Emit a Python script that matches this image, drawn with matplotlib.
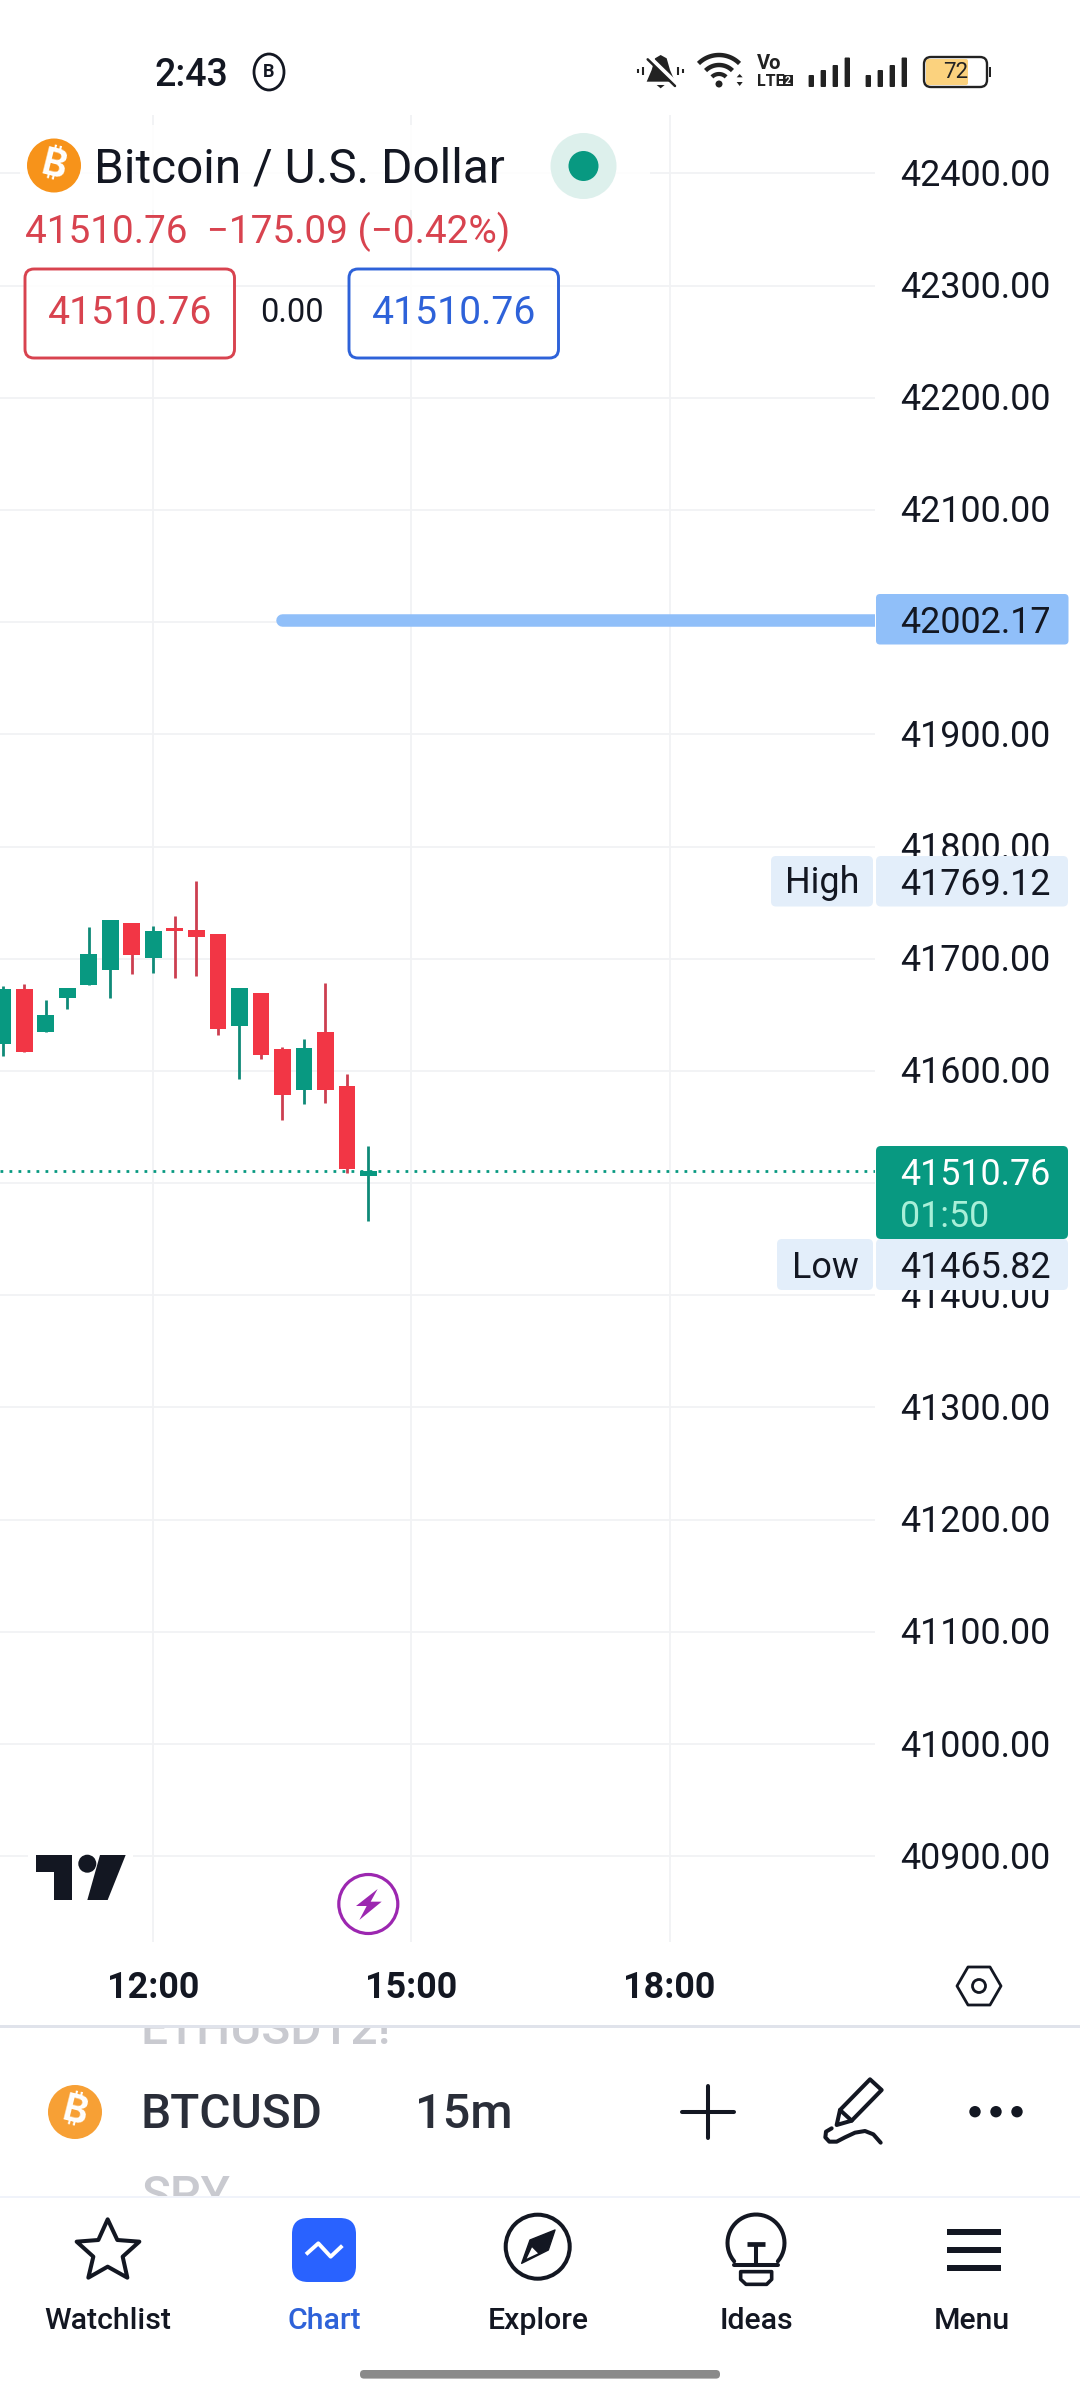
import numpy as np
import matplotlib
matplotlib.use("Agg")
import matplotlib.pyplot as plt
from matplotlib.patches import Circle, Ellipse, FancyBboxPatch, Polygon, Rectangle
from matplotlib.transforms import ScaledTranslation

plt.rcParams["font.family"] = ["Roboto", "DejaVu Sans"]

# candles, 15m bars, index 0 is the 12:00 bar
bar_index = [-7, -6, -5, -4, -3, -2, -1, 0, 1, 2, 3, 4, 5, 6, 7, 8, 9, 10]
opens = [41624.0, 41672.7, 41634.7, 41665.0, 41676.3, 41689.9, 41731.5, 41700.6, 41727.0,
         41725.2, 41721.7, 41640.1, 41669.1, 41619.3, 41583.1, 41634.4, 41586.4, 41506.5]
closes = [41672.7, 41616.9, 41649.6, 41673.6, 41703.9, 41734.1, 41703.3, 41724.3, 41724.6,
          41719.0, 41637.1, 41673.6, 41614.3, 41578.6, 41620.2, 41583.1, 41512.5, 41510.76]
highs = [41675.4, 41677.2, 41662.9, 41673.6, 41727.9, 41734.1, 41731.5, 41728.8, 41737.7,
         41769.12, 41721.7, 41673.6, 41669.1, 41621.1, 41628.2, 41678.0, 41597.0, 41533.0]
lows = [41613.4, 41616.9, 41634.7, 41655.2, 41676.3, 41665.0, 41686.4, 41687.2, 41682.8,
        41684.6, 41632.1, 41592.9, 41610.7, 41556.4, 41570.6, 41571.5, 41509.2, 41465.82]

price_ticks = [40900, 41000, 41100, 41200, 41300, 41400, 41500, 41600, 41700, 41800,
               41900, 42000, 42100, 42200, 42300, 42400]
hidden_ticks = [41500, 42000]  # these sit fully behind the price tags
time_ticks = [0, 12, 24]
time_labels = ["12:00", "15:00", "18:00"]
last_price = 41510.76
line_price = 42002.17
line_start = 6

DARK = "#131722"
RED = "#F23645"
RED_WICK = "#CC3F50"
GREEN = "#089981"
GREEN_WICK = "#0F8A78"
TEXT_RED = "#D8434F"
TEXT_BLUE = "#2E62D9"
TAG = "#E3EEFA"
BLUE_LINE = "#90BFF9"
GRID = "#F1F2F4"
ORANGE = "#F7931A"

fig = plt.figure(figsize=(10.8, 24), dpi=100, facecolor="white")

# price pane
ax = fig.add_axes([0, (2400 - 1942) / 2400, 875 / 1080, (1942 - 115) / 2400], zorder=1)
ax.set_xlim(-7.13, 33.55)
ax.set_ylim(40823.6, 42452)
for s in ax.spines.values():
    s.set_visible(False)
ax.set_axisbelow(True)
ax.grid(True, color=GRID, lw=1.3)
ax.yaxis.tick_right()
ax.set_yticks(price_ticks)
ax.set_yticklabels(["" if p in hidden_ticks else f"{p:.2f}" for p in price_ticks],
                   fontsize=25.8, color=DARK)
ax.set_xticks(time_ticks)
ax.set_xticklabels(time_labels, fontsize=25.8, color=DARK, fontweight="bold")
ax.tick_params(axis="y", length=0, pad=18)
ax.tick_params(axis="x", length=0, pad=20)
nudge_up = ScaledTranslation(0, 1.5 / 100, fig.dpi_scale_trans)
for lab in ax.get_yticklabels():
    lab.set_transform(lab.get_transform() + nudge_up)

for i, o, c, h, l in zip(bar_index, opens, closes, highs, lows):
    up = c >= o
    ax.vlines(i, l, h, color=GREEN_WICK if up else RED_WICK, lw=2.0, zorder=3)
    ax.bar(i, abs(c - o), bottom=min(o, c), width=0.78, color=GREEN if up else RED, zorder=4)

ax.axhline(last_price, color=GREEN, lw=2.0, linestyle=(0, (1, 2.24)), dash_capstyle="butt", zorder=5)
ax.plot([line_start, 33.55], [line_price, line_price], color=BLUE_LINE, lw=9,
        solid_capstyle="round", zorder=5)

# everything else of the app screen, in screen pixels
ui = fig.add_axes([0, 0, 1, 1], zorder=2)
ui.set_xlim(0, 1080)
ui.set_ylim(2400, 0)
ui.axis("off")
ui.patch.set_alpha(0)


def label(x, y, s, size, color=DARK, ha="left", va="baseline", weight="normal", **kw):
    return ui.text(x, y, s, fontsize=size, color=color, ha=ha, va=va, fontweight=weight, **kw)


def stroke(xs, ys, color=DARK, lw=2.9, cap="round", **kw):
    ui.plot(xs, ys, color=color, lw=lw, solid_capstyle=cap, solid_joinstyle="round", **kw)


def box(x0, y0, x1, y1, face, edge="none", lw=0, rad=5):
    ui.add_patch(FancyBboxPatch((x0 + rad, y0 + rad), x1 - x0 - 2 * rad, y1 - y0 - 2 * rad,
                                boxstyle=f"round,pad={rad},rounding_size={rad}",
                                fc=face, ec=edge, lw=lw))


def poly(points, ox, oy, scale=1 / 3, **kw):
    pts = [(ox + px * scale, oy + py * scale) for px, py in points]
    ui.add_patch(Polygon(pts, **kw))


def arc(cx, cy, r, t0, t1, **kw):
    t = np.radians(np.linspace(t0, t1, 40))
    stroke(cx + r * np.cos(t), cy - r * np.sin(t), **kw)


def coin(cx, cy, r, color, size):
    ui.add_patch(Circle((cx, cy), r, fc=color, ec="none"))
    label(cx, cy, "\u20bf", size, color="white", ha="center", va="center", weight="bold", rotation=-14,
          family=["Inter", "Noto Sans", "Open Sans", "Lato", "DejaVu Sans"])


def clipped(x, y, s, top, bottom):
    t = label(x, y, s, 34.5, color="#C9CAD0", weight="medium")
    t.set_clip_path(Rectangle((0, top), 1080, bottom - top, transform=ui.transData))
    t.set_clip_on(True)


# status bar
label(155, 86, "2:43", 27, weight="medium")
ui.add_patch(Ellipse((269, 72), 30, 36, fc="none", ec=DARK, lw=2))
label(269, 72, "B", 13, ha="center", va="center", weight="bold")
poly([(122, 45), (140, 55), (150, 90), (165, 125), (80, 125), (95, 90), (105, 55)], 620, 40, fc="#222222", ec="none")
stroke([620 + 88 / 3, 620 + 170 / 3], [40 + 52 / 3, 40 + 132 / 3], color="white", lw=3.4)
stroke([620 + 83 / 3, 620 + 165 / 3], [40 + 58 / 3, 40 + 138 / 3], color="#222222", lw=1.8)
poly([(110, 135), (134, 135), (122, 145)], 620, 40, fc="#222222", ec="none")
for a, y0, y1 in [(55, 86, 98), (70, 80, 104), (175, 80, 104), (190, 86, 98)]:
    stroke([620 + a / 3, 620 + a / 3], [40 + y0 / 3, 40 + y1 / 3], color="#222222", lw=1.5, cap="butt")
for r, w in [(29, 3.2), (19, 3.2), (10, 3)]:
    arc(719, 84, r, 45, 135, color="#222222", lw=w, cap="butt")
ui.add_patch(Circle((719, 84), 3.5, fc="#222222", ec="none"))
poly([(350, 112), (368, 112), (359, 102)], 620, 40, fc="#222222", ec="none")
poly([(350, 126), (368, 126), (359, 138)], 620, 40, fc="#222222", ec="none")
label(757, 69, "Vo", 14.5, color="#222222", weight="bold")
label(757, 86, "LTE", 11.5, color="#222222", weight="bold")
ui.add_patch(Rectangle((783, 75), 10, 11, fc="#222222", ec="none"))
label(788, 80.5, "2", 7.5, color="white", ha="center", va="center", weight="bold")
for x0 in (811.3, 868.3):
    for k, top in enumerate((75, 70, 65, 57.5)):
        box(x0 - 2.7 + 12 * k, top, x0 + 2.7 + 12 * k, 87, "#222222", rad=1)
box(926, 59, 968, 85, "#FBD27E", rad=2)
box(924, 57, 987, 87, "none", edge="#222222", lw=1.7, rad=7)
ui.add_patch(Rectangle((988.5, 67), 2.6, 10, fc="#222222", ec="none"))
label(956, 72.5, "72", 16, color="#222222", ha="center", va="center")

# symbol header
ui.add_patch(Rectangle((20, 125), 630, 85, fc="white", alpha=0.85, ec="none"))
coin(54, 165.5, 27, ORANGE, 27)
label(94, 182, "Bitcoin / U.S. Dollar", 34.4)
ui.add_patch(Circle((583.5, 166), 33, fc="#DDF0EC", ec="none"))
ui.add_patch(Circle((583.5, 166), 15, fc=GREEN, ec="none"))
label(25, 243, "41510.76  \u2212175.09 (\u22120.42%)", 27.9, color=TEXT_RED)
box(25, 269, 234.5, 358, (1, 1, 1, 0.9), edge=TEXT_RED, lw=2.1, rad=9)
box(349, 269, 558.5, 358, (1, 1, 1, 0.9), edge=TEXT_BLUE, lw=2.1, rad=9)
label(130, 313, "41510.76", 28.2, color=TEXT_RED, ha="center", va="center")
label(291.5, 313, "0.00", 23.5, ha="center", va="center")
label(454, 313, "41510.76", 28.2, color=TEXT_BLUE, ha="center", va="center")

# price tags on the scale
box(876, 594, 1068.5, 644.5, BLUE_LINE, rad=4)
label(900, 619, "42002.17", 25.8, va="center_baseline")
box(771, 856, 873, 906.5, TAG, rad=5)
box(876, 856, 1068, 906.5, TAG, rad=5)
label(859, 879, "High", 25.8, ha="right", va="center_baseline")
label(900, 881, "41769.12", 25.8, va="center_baseline")
box(876, 1146, 1068, 1239, GREEN, rad=5)
label(900, 1171, "41510.76", 25.8, color="white", va="center_baseline")
label(900, 1213, "01:50", 25.8, color="#A8EFD8", va="center_baseline")
box(777, 1239, 873, 1290, TAG, rad=5)
box(876, 1239, 1068, 1290, TAG, rad=5)
label(859, 1264, "Low", 25.8, ha="right", va="center_baseline")
label(900, 1264, "41465.82", 25.8, va="center_baseline")

# logo and lightning mark on the pane
ui.add_patch(Rectangle((28, 1843), 105, 60, fc="white", ec="none"))
poly([(108, 45), (216, 45), (216, 180), (162, 180), (162, 97), (108, 97)], 0, 1840, fc=DARK, ec="none")
ui.add_patch(Circle((87.3, 1863.7), 9, fc=DARK, ec="none"))
poly([(300, 45), (377, 45), (323, 180), (262, 180)], 0, 1840, fc=DARK, ec="none")
ui.add_patch(Circle((368.3, 1904), 29.5, fc="white", ec="#9C27B0", lw=2.3))
poly([(1133, 147), (1068, 198), (1100, 198), (1078, 240), (1145, 185), (1112, 185)], 0, 1840, fc="#9C27B0", ec="none")

# scale settings hexagon
poly([(-66, 0), (-33, -57), (33, -57), (66, 0), (33, 57), (-33, 57)], 979, 1986, fc="none", ec=DARK, lw=2, joinstyle="round")
ui.add_patch(Circle((979, 1986), 6.5, fc="none", ec=DARK, lw=2))

# toolbar
ui.add_patch(Rectangle((0, 2024.5), 1080, 3, fc="#E0E3EB", ec="none"))
ui.add_patch(Rectangle((0, 2196), 1080, 2.4, fc="#F0F3FA", ec="none"))
clipped(141, 2044, "ETHUSDT2!", 2028, 2060)
clipped(141, 2210, "SPY", 2165, 2196)
coin(75, 2112, 27, "#F7A035", 27)
label(141, 2127.5, "BTCUSD", 34.5, color="#2A2E39", weight="medium")
label(415, 2127.5, "15m", 35, color="#2A2E39", weight="medium")
stroke([682, 734], [2111.7, 2111.7], lw=2.9)
stroke([708, 708], [2086, 2137.5], lw=2.9)
pen = [(590, 285), (600, 240), (690, 148), (725, 180), (635, 272)]
poly(pen, 640, 2030, fc="none", ec=DARK, lw=2.9, joinstyle="round")
stroke([640 + 600 / 3, 640 + 635 / 3], [2030 + 240 / 3, 2030 + 272 / 3])
squiggle_x = np.array([575, 558, 556, 568, 590, 615, 645, 675, 700, 722])
squiggle_y = np.array([295, 305, 322, 335, 335, 322, 308, 303, 313, 338])
stroke(640 + squiggle_x / 3, 2030 + squiggle_y / 3)
for x in (975, 996, 1017):
    ui.add_patch(Circle((x, 2111.7), 5.7, fc=DARK, ec="none"))

# bottom navigation
star = [(323, 88), (352, 150), (418, 155), (368, 200), (382, 263), (323, 230), (265, 263), (280, 200), (230, 155), (295, 150)]
poly(star, 0, 2190, fc="none", ec=DARK, lw=2.9, joinstyle="round")
box(292, 2218, 356, 2282, "#2962FF", rad=16)
stroke(np.array([918, 955, 992, 1027]) / 3, 2190 + np.array([193, 160, 200, 167]) / 3, color="white", lw=2.8, cap="butt")
ui.add_patch(Circle((537.7, 2246.7), 32, fc="none", ec=DARK, lw=2.9))
poly([(165, 120), (145, 180), (65, 220), (90, 150)], 500, 2190, fc=DARK, ec=DARK, lw=1, joinstyle="round")
poly([(80, 206), (96, 172), (114, 190)], 500, 2190, fc="white", ec="none")
arc(756, 2243, 28.5, -40, 220, lw=2.9)
stroke([734, 778], [2264.5, 2264.5], lw=2.9)
stroke([500 + 742 / 3, 500 + 795 / 3], [2243.5, 2243.5], lw=3.4, cap="butt")
stroke([756, 756], [2243.5, 2265], lw=2.9, cap="butt")
poly([(722, 245), (815, 245), (815, 268), (800, 283), (738, 283), (722, 268)], 500, 2190, fc="none", ec=DARK, lw=2.6, joinstyle="round")
for y in (2229, 2247, 2265):
    ui.add_patch(Rectangle((947, y), 54, 5.7, fc=DARK, ec="none"))

nav_labels = ["Watchlist", "Chart", "Explore", "Ideas", "Menu"]
nav_x = [108, 324, 538, 756, 972]
for x, s in zip(nav_x, nav_labels):
    label(x, 2329, s, 21.8, color=TEXT_BLUE if s == "Chart" else DARK, ha="center", weight="medium")

box(360, 2370, 720, 2378.6, "#8A8A8A", rad=4)

fig.savefig("out.png", dpi=100)
